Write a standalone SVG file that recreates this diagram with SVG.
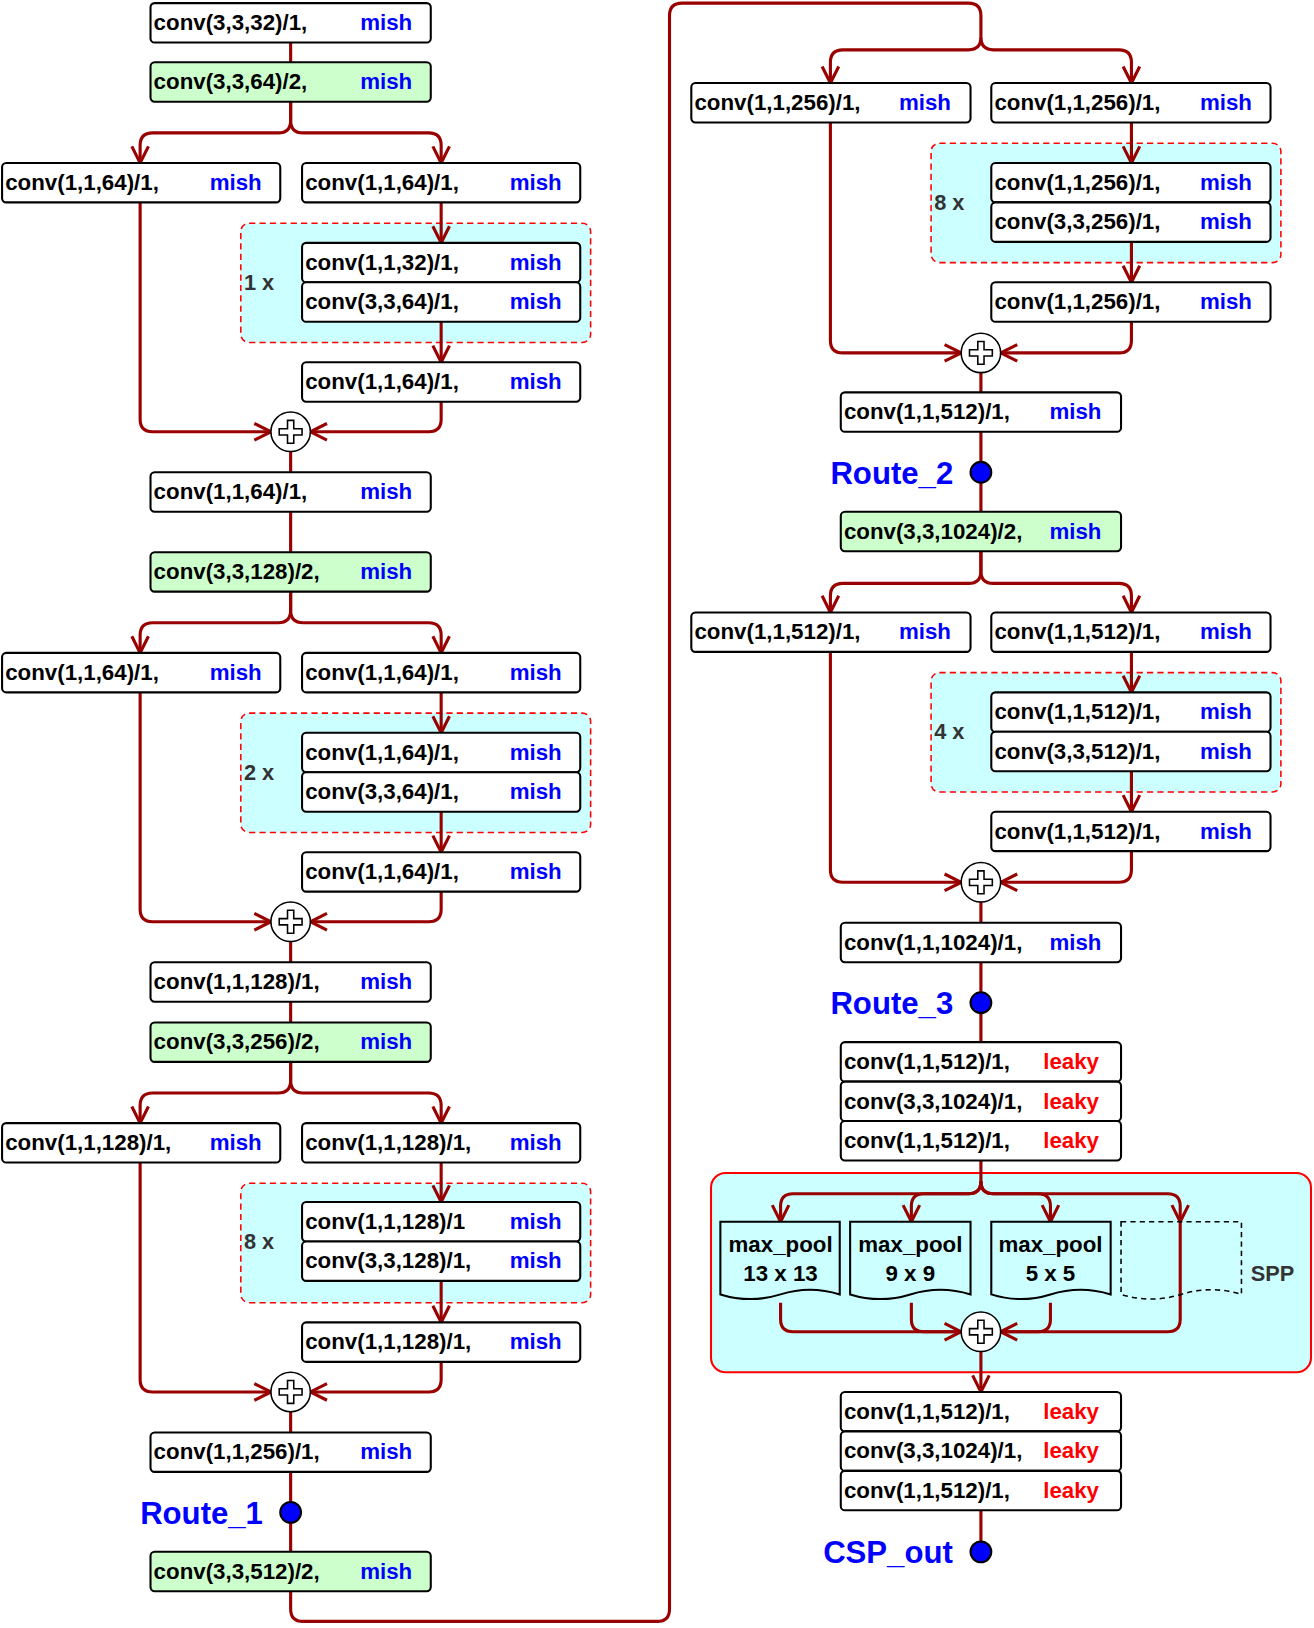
<svg xmlns="http://www.w3.org/2000/svg" width="1314" height="1628" viewBox="0 0 1314 1628">
<style>
.b{fill:#fff;stroke:#000;stroke-width:2}
.g{fill:#ccffcc;stroke:#000;stroke-width:2}
.t{font-family:"Liberation Sans",Arial,sans-serif;font-weight:bold;font-size:21.5px;fill:#000}
.m{fill:#0000ff}
.l{fill:#ff0000}
.rep{fill:#ccffff;stroke:#ff0000;stroke-width:1.5;stroke-dasharray:6 4}
.rl{font-family:"Liberation Sans",Arial,sans-serif;font-weight:bold;font-size:21px;fill:#333}
.c{fill:none;stroke:#990000;stroke-width:3}
.a{marker-end:url(#ah)}
.route{font-family:"Liberation Sans",Arial,sans-serif;font-weight:bold;font-size:30px;fill:#0000ff}
.dot{fill:#0000ff;stroke:#000;stroke-width:2}
.pc{fill:#fff;stroke:#000;stroke-width:1.5}
.doc{fill:#ccffff;stroke:#000;stroke-width:2}
</style>
<defs>
<marker id="ah" viewBox="0 0 20 20" refX="18" refY="10" markerWidth="20" markerHeight="20" markerUnits="userSpaceOnUse" orient="auto">
<path d="M2 2 L18 10 L2 18" fill="none" stroke="#990000" stroke-width="3"/>
</marker>
<g id="plus"><circle r="19" class="pc"/><path d="M-3 -11 H3 V-3 H11 V3 H3 V11 H-3 V3 H-11 V-3 H-3 Z" fill="#fff" stroke="#000" stroke-width="1.5"/></g>
</defs>
<g transform="scale(1.038)">
<!-- containers -->
<rect class="rep" x="232" y="215" width="337" height="115" rx="8"/>
<rect class="rep" x="232" y="687" width="337" height="115" rx="8"/>
<rect class="rep" x="232" y="1140" width="337" height="115" rx="8"/>
<rect class="rep" x="897" y="138" width="337" height="115" rx="8"/>
<rect class="rep" x="897" y="648" width="337" height="115" rx="8"/>
<rect x="685" y="1130" width="578" height="192" rx="14" fill="#ccffff" stroke="#ff0000" stroke-width="2"/>
<text class="rl" x="235" y="279">1 x</text>
<text class="rl" x="235" y="751">2 x</text>
<text class="rl" x="235" y="1203">8 x</text>
<text class="rl" x="900" y="202">8 x</text>
<text class="rl" x="900" y="712">4 x</text>
<text class="rl" x="1205" y="1234" font-size="24">SPP</text>

<g id="connectors">
<path class="c" d="M280 41 V60"/>
<path class="c a" d="M280 98 V116 Q280 128 268 128 H147 Q135 128 135 140 V157"/>
<path class="c a" d="M280 98 V116 Q280 128 292 128 H413 Q425 128 425 140 V157"/>
<path class="c a" d="M425 195 V234"/>
<path class="c a" d="M425 310 V349"/>
<path class="c a" d="M135 195 V404 Q135 416 147 416 H261"/>
<path class="c a" d="M425 387 V404 Q425 416 413 416 H299"/>
<path class="c" d="M280 435 V455 M280 493 V532"/>
<path class="c a" d="M280 570 V588 Q280 600 268 600 H147 Q135 600 135 612 V629"/>
<path class="c a" d="M280 570 V588 Q280 600 292 600 H413 Q425 600 425 612 V629"/>
<path class="c a" d="M425 667 V706"/>
<path class="c a" d="M425 782 V821"/>
<path class="c a" d="M135 667 V876 Q135 888 147 888 H261"/>
<path class="c a" d="M425 859 V876 Q425 888 413 888 H299"/>
<path class="c" d="M280 907 V927 M280 965 V985"/>
<path class="c a" d="M280 1023 V1041 Q280 1053 268 1053 H147 Q135 1053 135 1065 V1082"/>
<path class="c a" d="M280 1023 V1041 Q280 1053 292 1053 H413 Q425 1053 425 1065 V1082"/>
<path class="c a" d="M425 1120 V1158"/>
<path class="c a" d="M425 1234 V1274"/>
<path class="c a" d="M135 1120 V1329 Q135 1341 147 1341 H261"/>
<path class="c a" d="M425 1312 V1329 Q425 1341 413 1341 H299"/>
<path class="c" d="M280 1360 V1380 M280 1418 V1495"/>
<path class="c" d="M280 1533 V1550 Q280 1562 292 1562 H633 Q645 1562 645 1550 V15 Q645 3 657 3 H933 Q945 3 945 15 V36"/>
<path class="c a" d="M945 36 Q945 48 933 48 H812 Q800 48 800 60 V80"/>
<path class="c a" d="M945 36 Q945 48 957 48 H1078 Q1090 48 1090 60 V80"/>
<path class="c a" d="M1090 118 V157"/>
<path class="c a" d="M1090 233 V272"/>
<path class="c a" d="M800 118 V328 Q800 340 812 340 H926"/>
<path class="c a" d="M1090 310 V328 Q1090 340 1078 340 H964"/>
<path class="c" d="M945 359 V378 M945 416 V493"/>
<path class="c a" d="M945 531 V550 Q945 562 933 562 H812 Q800 562 800 574 V590"/>
<path class="c a" d="M945 531 V550 Q945 562 957 562 H1078 Q1090 562 1090 574 V590"/>
<path class="c a" d="M1090 628 V667"/>
<path class="c a" d="M1090 743 V782"/>
<path class="c a" d="M800 628 V838 Q800 850 812 850 H926"/>
<path class="c a" d="M1090 820 V838 Q1090 850 1078 850 H964"/>
<path class="c" d="M945 869 V889 M945 927 V1004"/>
<path class="c" d="M945 1118 V1138"/>
<path class="c a" d="M945 1138 Q945 1150 933 1150 H764 Q752 1150 752 1162 V1177"/>
<path class="c a" d="M945 1138 Q945 1150 933 1150 H890 Q878 1150 878 1162 V1177"/>
<path class="c a" d="M945 1138 Q945 1150 957 1150 H1000 Q1012 1150 1012 1162 V1177"/>
<path class="c a" d="M945 1138 Q945 1150 957 1150 H1125 Q1137 1150 1137 1162 V1177"/>
<path class="c" d="M1137 1177 V1271 Q1137 1283 1125 1283 H966"/>
<path class="c a" d="M752 1255 V1271 Q752 1283 764 1283 H926"/>
<path class="c" d="M878 1255 V1271 Q878 1283 890 1283 H926"/>
<path class="c a" d="M1012 1255 V1271 Q1012 1283 1000 1283 H964"/>
<path class="c a" d="M945 1302 V1341"/>
<path class="c" d="M945 1455 V1485"/>
</g>

<g id="n1"><rect class="b" x="145" y="3" width="270" height="38" rx="4"/><text class="t" x="148" y="29">conv(3,3,32)/1,<tspan class="m" x="347">mish</tspan></text></g>
<g id="n2"><rect class="g" x="145" y="60" width="270" height="38" rx="4"/><text class="t" x="148" y="86">conv(3,3,64)/2,<tspan class="m" x="347">mish</tspan></text></g>
<g id="n3"><rect class="b" x="2" y="157" width="268" height="38" rx="4"/><text class="t" x="5" y="183">conv(1,1,64)/1,<tspan class="m" x="202">mish</tspan></text></g>
<g id="n4"><rect class="b" x="291" y="157" width="268" height="38" rx="4"/><text class="t" x="294" y="183">conv(1,1,64)/1,<tspan class="m" x="491">mish</tspan></text></g>
<g id="n5"><rect class="b" x="291" y="234" width="268" height="38" rx="4"/><text class="t" x="294" y="260">conv(1,1,32)/1,<tspan class="m" x="491">mish</tspan></text></g>
<g id="n6"><rect class="b" x="291" y="272" width="268" height="38" rx="4"/><text class="t" x="294" y="298">conv(3,3,64)/1,<tspan class="m" x="491">mish</tspan></text></g>
<g id="n7"><rect class="b" x="291" y="349" width="268" height="38" rx="4"/><text class="t" x="294" y="375">conv(1,1,64)/1,<tspan class="m" x="491">mish</tspan></text></g>
<g id="p1"><use href="#plus" x="280" y="416"/></g>
<g id="n8"><rect class="b" x="145" y="455" width="270" height="38" rx="4"/><text class="t" x="148" y="481">conv(1,1,64)/1,<tspan class="m" x="347">mish</tspan></text></g>
<g id="n9"><rect class="g" x="145" y="532" width="270" height="38" rx="4"/><text class="t" x="148" y="558">conv(3,3,128)/2,<tspan class="m" x="347">mish</tspan></text></g>
<g id="n10"><rect class="b" x="2" y="629" width="268" height="38" rx="4"/><text class="t" x="5" y="655">conv(1,1,64)/1,<tspan class="m" x="202">mish</tspan></text></g>
<g id="n11"><rect class="b" x="291" y="629" width="268" height="38" rx="4"/><text class="t" x="294" y="655">conv(1,1,64)/1,<tspan class="m" x="491">mish</tspan></text></g>
<g id="n12"><rect class="b" x="291" y="706" width="268" height="38" rx="4"/><text class="t" x="294" y="732">conv(1,1,64)/1,<tspan class="m" x="491">mish</tspan></text></g>
<g id="n13"><rect class="b" x="291" y="744" width="268" height="38" rx="4"/><text class="t" x="294" y="770">conv(3,3,64)/1,<tspan class="m" x="491">mish</tspan></text></g>
<g id="n14"><rect class="b" x="291" y="821" width="268" height="38" rx="4"/><text class="t" x="294" y="847">conv(1,1,64)/1,<tspan class="m" x="491">mish</tspan></text></g>
<g id="p2"><use href="#plus" x="280" y="888"/></g>
<g id="n15"><rect class="b" x="145" y="927" width="270" height="38" rx="4"/><text class="t" x="148" y="953">conv(1,1,128)/1,<tspan class="m" x="347">mish</tspan></text></g>
<g id="n16"><rect class="g" x="145" y="985" width="270" height="38" rx="4"/><text class="t" x="148" y="1011">conv(3,3,256)/2,<tspan class="m" x="347">mish</tspan></text></g>
<g id="n17"><rect class="b" x="2" y="1082" width="268" height="38" rx="4"/><text class="t" x="5" y="1108">conv(1,1,128)/1,<tspan class="m" x="202">mish</tspan></text></g>
<g id="n18"><rect class="b" x="291" y="1082" width="268" height="38" rx="4"/><text class="t" x="294" y="1108">conv(1,1,128)/1,<tspan class="m" x="491">mish</tspan></text></g>
<g id="n19"><rect class="b" x="291" y="1158" width="268" height="38" rx="4"/><text class="t" x="294" y="1184">conv(1,1,128)/1<tspan class="m" x="491">mish</tspan></text></g>
<g id="n20"><rect class="b" x="291" y="1196" width="268" height="38" rx="4"/><text class="t" x="294" y="1222">conv(3,3,128)/1,<tspan class="m" x="491">mish</tspan></text></g>
<g id="n21"><rect class="b" x="291" y="1274" width="268" height="38" rx="4"/><text class="t" x="294" y="1300">conv(1,1,128)/1,<tspan class="m" x="491">mish</tspan></text></g>
<g id="p3"><use href="#plus" x="280" y="1341"/></g>
<g id="n22"><rect class="b" x="145" y="1380" width="270" height="38" rx="4"/><text class="t" x="148" y="1406">conv(1,1,256)/1,<tspan class="m" x="347">mish</tspan></text></g>
<g id="r1"><text class="route" x="135" y="1468">Route_1</text><circle class="dot" cx="280" cy="1457" r="10"/></g>
<g id="n23"><rect class="g" x="145" y="1495" width="270" height="38" rx="4"/><text class="t" x="148" y="1521">conv(3,3,512)/2,<tspan class="m" x="347">mish</tspan></text></g>

<g id="n24"><rect class="b" x="666" y="80" width="269" height="38" rx="4"/><text class="t" x="669" y="106">conv(1,1,256)/1,<tspan class="m" x="866">mish</tspan></text></g>
<g id="n25"><rect class="b" x="955" y="80" width="269" height="38" rx="4"/><text class="t" x="958" y="106">conv(1,1,256)/1,<tspan class="m" x="1156">mish</tspan></text></g>
<g id="n26"><rect class="b" x="955" y="157" width="269" height="38" rx="4"/><text class="t" x="958" y="183">conv(1,1,256)/1,<tspan class="m" x="1156">mish</tspan></text></g>
<g id="n27"><rect class="b" x="955" y="195" width="269" height="38" rx="4"/><text class="t" x="958" y="221">conv(3,3,256)/1,<tspan class="m" x="1156">mish</tspan></text></g>
<g id="n28"><rect class="b" x="955" y="272" width="269" height="38" rx="4"/><text class="t" x="958" y="298">conv(1,1,256)/1,<tspan class="m" x="1156">mish</tspan></text></g>
<g id="p4"><use href="#plus" x="945" y="340"/></g>
<g id="n29"><rect class="b" x="810" y="378" width="270" height="38" rx="4"/><text class="t" x="813" y="404">conv(1,1,512)/1,<tspan class="m" x="1011">mish</tspan></text></g>
<g id="r2"><text class="route" x="800" y="466">Route_2</text><circle class="dot" cx="945" cy="455" r="10"/></g>
<g id="n30"><rect class="g" x="810" y="493" width="270" height="38" rx="4"/><text class="t" x="813" y="519">conv(3,3,1024)/2,<tspan class="m" x="1011">mish</tspan></text></g>
<g id="n31"><rect class="b" x="666" y="590" width="269" height="38" rx="4"/><text class="t" x="669" y="616">conv(1,1,512)/1,<tspan class="m" x="866">mish</tspan></text></g>
<g id="n32"><rect class="b" x="955" y="590" width="269" height="38" rx="4"/><text class="t" x="958" y="616">conv(1,1,512)/1,<tspan class="m" x="1156">mish</tspan></text></g>
<g id="n33"><rect class="b" x="955" y="667" width="269" height="38" rx="4"/><text class="t" x="958" y="693">conv(1,1,512)/1,<tspan class="m" x="1156">mish</tspan></text></g>
<g id="n34"><rect class="b" x="955" y="705" width="269" height="38" rx="4"/><text class="t" x="958" y="731">conv(3,3,512)/1,<tspan class="m" x="1156">mish</tspan></text></g>
<g id="n35"><rect class="b" x="955" y="782" width="269" height="38" rx="4"/><text class="t" x="958" y="808">conv(1,1,512)/1,<tspan class="m" x="1156">mish</tspan></text></g>
<g id="p5"><use href="#plus" x="945" y="850"/></g>
<g id="n36"><rect class="b" x="810" y="889" width="270" height="38" rx="4"/><text class="t" x="813" y="915">conv(1,1,1024)/1,<tspan class="m" x="1011">mish</tspan></text></g>
<g id="r3"><text class="route" x="800" y="977">Route_3</text><circle class="dot" cx="945" cy="966" r="10"/></g>
<g id="n37"><rect class="b" x="810" y="1004" width="270" height="38" rx="4"/><text class="t" x="813" y="1030">conv(1,1,512)/1,<tspan class="l" x="1005">leaky</tspan></text></g>
<g id="n38"><rect class="b" x="810" y="1042" width="270" height="38" rx="4"/><text class="t" x="813" y="1068">conv(3,3,1024)/1,<tspan class="l" x="1005">leaky</tspan></text></g>
<g id="n39"><rect class="b" x="810" y="1080" width="270" height="38" rx="4"/><text class="t" x="813" y="1106">conv(1,1,512)/1,<tspan class="l" x="1005">leaky</tspan></text></g>
<g id="mp1"><path class="doc" d="M694 1177 H809 V1247 Q780 1238 752 1247 Q723 1256 694 1247 Z"/><text class="t" x="752" y="1206" text-anchor="middle">max_pool<tspan x="752" y="1234">13 x 13</tspan></text></g>
<g id="mp2"><path class="doc" d="M819 1177 H935 V1247 Q906 1238 877 1247 Q848 1256 819 1247 Z"/><text class="t" x="877" y="1206" text-anchor="middle">max_pool<tspan x="877" y="1234">9 x 9</tspan></text></g>
<g id="mp3"><path class="doc" d="M955 1177 H1070 V1247 Q1041 1238 1012 1247 Q983 1256 955 1247 Z"/><text class="t" x="1012" y="1206" text-anchor="middle">max_pool<tspan x="1012" y="1234">5 x 5</tspan></text></g>
<g id="mp4"><path d="M1080 1177 H1196 V1247 Q1167 1238 1138 1247 Q1109 1256 1080 1247 Z" fill="none" stroke="#000" stroke-width="1.5" stroke-dasharray="5 4"/></g>
<g id="p6"><use href="#plus" x="945" y="1283"/></g>
<g id="n40"><rect class="b" x="810" y="1341" width="270" height="38" rx="4"/><text class="t" x="813" y="1367">conv(1,1,512)/1,<tspan class="l" x="1005">leaky</tspan></text></g>
<g id="n41"><rect class="b" x="810" y="1379" width="270" height="38" rx="4"/><text class="t" x="813" y="1405">conv(3,3,1024)/1,<tspan class="l" x="1005">leaky</tspan></text></g>
<g id="n42"><rect class="b" x="810" y="1417" width="270" height="38" rx="4"/><text class="t" x="813" y="1443">conv(1,1,512)/1,<tspan class="l" x="1005">leaky</tspan></text></g>
<g id="out"><text class="route" x="793" y="1506">CSP_out</text><circle class="dot" cx="945" cy="1495" r="10"/></g>
</g>
</svg>
